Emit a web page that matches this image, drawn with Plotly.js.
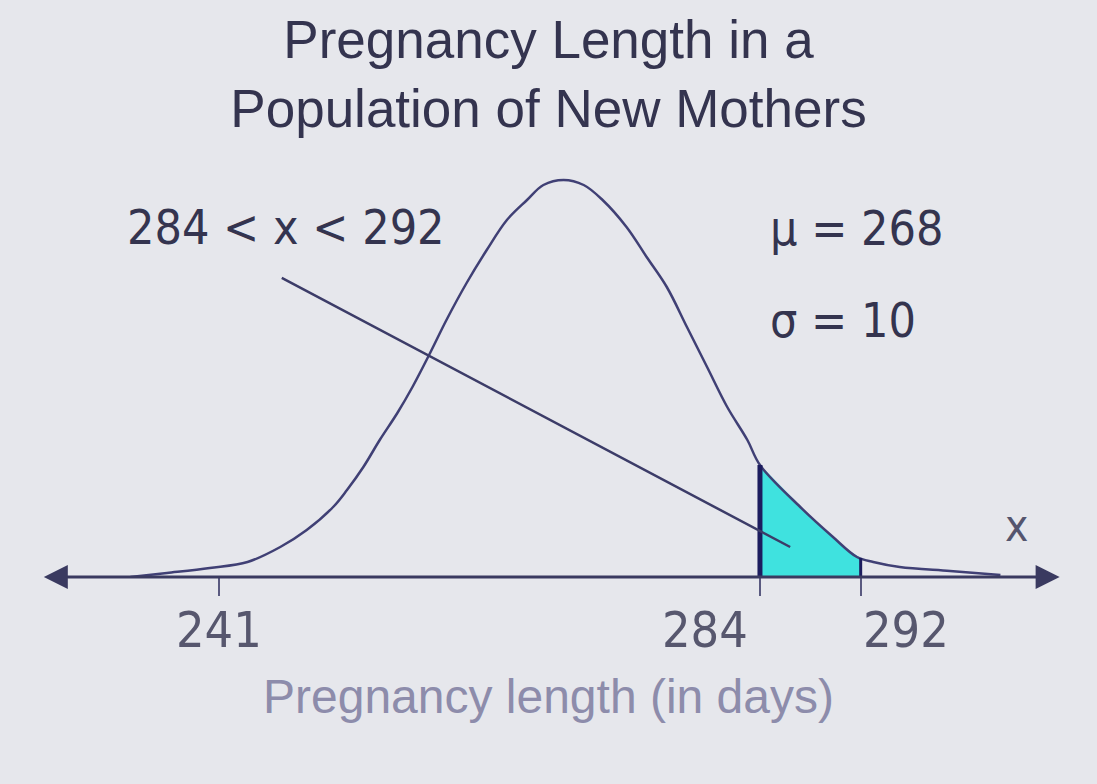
<!DOCTYPE html>
<html>
<head>
<meta charset="utf-8">
<script src="https://cdn.plot.ly/plotly-3.0.1.min.js"></script>
<style>
  html, body { margin: 0; padding: 0; background: #e6e7ec; }
  #chart { width: 1097px; height: 784px; }
</style>
</head>
<body>
<div id="chart"></div>
<script>
// ---- data ----
const titleLines = ["Pregnancy Length in a", "Population of New Mothers"];
const axisTitle = "Pregnancy length (in days)";

// normal curve (days, density)
const curveX = [234.0, 236.9, 240.3, 243.3, 245.9, 248.0, 250.1, 251.2, 252.5, 253.8, 255.2, 256.4,
                257.8, 259.1, 260.7, 262.3, 263.9, 265.5, 266.8, 268.4, 270.0, 271.5, 273.4, 275.0,
                276.6, 278.2, 279.8, 281.4, 283.0, 284.0, 287.2, 289.8, 291.7, 293.0, 295.1, 299.1, 303.1];
const curveY = [0.0000, 0.0004, 0.0009, 0.0015, 0.0030, 0.0047, 0.0070, 0.0087, 0.0110, 0.0137, 0.0164, 0.0190,
                0.0224, 0.0257, 0.0294, 0.0327, 0.0357, 0.0377, 0.0392, 0.0397, 0.0392, 0.0377, 0.0350, 0.0320,
                0.0290, 0.0250, 0.0210, 0.0170, 0.0137, 0.0112, 0.0070, 0.0040, 0.0020, 0.0015, 0.0010, 0.0006, 0.0002];

// shaded interval 284 < x < 292
const shadeX = [284, 285, 286, 287, 288, 289, 290, 291, 292];
const shadeY = [0.0112, 0.0099, 0.0086, 0.0073, 0.0061, 0.0049, 0.0038, 0.0027, 0.0019];

// ticks on the x axis
const tickValues = [241, 284, 292];
const tickLabels = ["241", "284", "292"];

// text labels
const intervalLabel = "284 < x < 292";
const muLabel = "μ = 268";
const sigmaLabel = "σ = 10";
const varLabel = "x";

// ---- styles ----
const ink = "#34344f";
const curveColor = "#404075";
const narrow = "Liberation Sans Narrow, DejaVu Sans Condensed, Arial, sans-serif";
const regular = "Liberation Sans, Arial, sans-serif";

// polygon for the shaded area
const polyX = shadeX.concat([shadeX[shadeX.length - 1], shadeX[0]]);
const polyY = shadeY.concat([0, 0]);

const traces = [
  {
    x: polyX, y: polyY, type: "scatter", mode: "lines",
    fill: "toself", fillcolor: "#3fe2df",
    line: { width: 0, color: "#3fe2df" }, hoverinfo: "skip", showlegend: false
  },
  {
    x: curveX, y: curveY, type: "scatter", mode: "lines",
    line: { color: curveColor, width: 2.5, shape: "spline", smoothing: 1.0 },
    hoverinfo: "skip", showlegend: false
  },
  {
    x: [shadeX[0], shadeX[0]], y: [0, shadeY[0]], type: "scatter", mode: "lines",
    line: { color: "#1c1c5e", width: 5 }, hoverinfo: "skip", showlegend: false
  },
  {
    x: [shadeX[shadeX.length - 1], shadeX[shadeX.length - 1]], y: [0, shadeY[shadeY.length - 1]],
    type: "scatter", mode: "lines",
    line: { color: "#1c1c5e", width: 3 }, hoverinfo: "skip", showlegend: false
  }
];

const annotations = [
  // number line with arrows at both ends
  {
    x: 307.8, y: 0, ax: 227.0, ay: 0, xref: "x", yref: "y", axref: "x", ayref: "y",
    showarrow: true, arrowside: "end+start", arrowhead: 2, startarrowhead: 2,
    arrowsize: 1.6, startarrowsize: 1.6, arrowwidth: 3, arrowcolor: "#3a3a60", text: ""
  },
  // pointer line from the interval label to the shaded area
  {
    x: 286.4, y: 0.0030, ax: 245.9, ay: 0.0300, xref: "x", yref: "y", axref: "x", ayref: "y",
    showarrow: true, arrowhead: 0, arrowwidth: 2.5, arrowcolor: "#3c3c68", text: ""
  },
  {
    x: 233.6, y: 0.0350, xref: "x", yref: "y", text: intervalLabel, showarrow: false,
    xanchor: "left", yanchor: "middle", font: { family: narrow, size: 48, color: ink }
  },
  {
    x: 284.6, y: 0.0349, xref: "x", yref: "y", text: muLabel, showarrow: false,
    xanchor: "left", yanchor: "middle", font: { family: narrow, size: 48, color: ink }
  },
  {
    x: 284.6, y: 0.0257, xref: "x", yref: "y", text: sigmaLabel, showarrow: false,
    xanchor: "left", yanchor: "middle", font: { family: narrow, size: 48, color: ink }
  },
  {
    x: 304.4, y: 0.0052, xref: "x", yref: "y", text: varLabel, showarrow: false,
    xanchor: "center", yanchor: "middle", font: { family: narrow, size: 44, color: "#55556e" }
  }
];

// tick labels (placed to avoid overlap, as in the reference)
const tickAnchors = ["center", "right", "left"];
const tickShift = [0, -10, 0];
tickValues.forEach(function (v, i) {
  annotations.push({
    x: v, y: 0, xref: "x", yref: "y", yshift: -53, xshift: tickShift[i],
    text: tickLabels[i], showarrow: false, xanchor: tickAnchors[i], yanchor: "middle",
    font: { family: narrow, size: 50, color: "#57576e" }
  });
});

const layout = {
  width: 1097, height: 784,
  paper_bgcolor: "#e6e7ec", plot_bgcolor: "#e6e7ec",
  margin: { l: 0, r: 0, t: 0, b: 207 },
  title: {
    text: titleLines.join("<br>"),
    font: { family: regular, size: 53, color: ink },
    x: 0.5, xanchor: "center", xref: "paper",
    y: 1 - 58 / 784, yanchor: "middle", yref: "container"
  },
  xaxis: {
    range: [223.64, 310.77],
    showgrid: false, zeroline: false, showline: false,
    tickmode: "array", tickvals: tickValues, ticktext: tickLabels,
    showticklabels: false, ticks: "outside", ticklen: 18, tickwidth: 2, tickcolor: "#5a5a80",
    title: { text: axisTitle, standoff: 84, font: { family: regular, size: 48, color: "#8d8cab" } },
    automargin: false, fixedrange: true
  },
  yaxis: {
    range: [0, 0.0577], visible: false, fixedrange: true
  },
  annotations: annotations,
  showlegend: false
};

Plotly.newPlot("chart", traces, layout, { staticPlot: true });
</script>
</body>
</html>
